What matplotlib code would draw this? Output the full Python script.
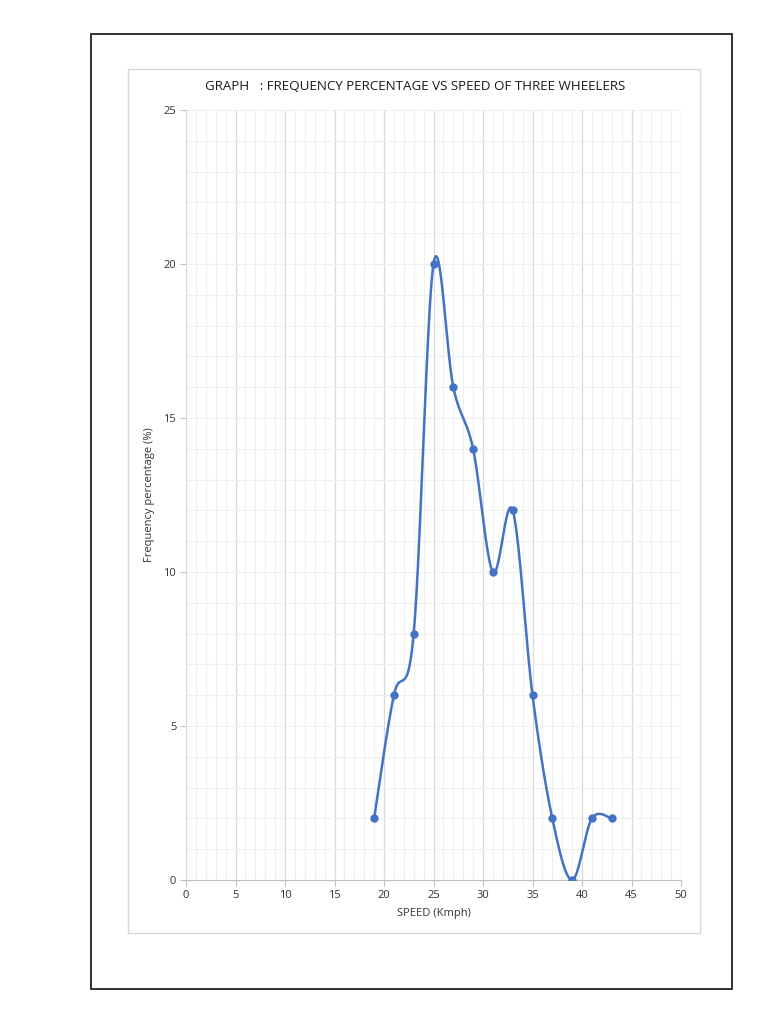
import numpy as np
import matplotlib
matplotlib.use("Agg")
import matplotlib.pyplot as plt
from matplotlib.patches import Rectangle
from matplotlib.ticker import MultipleLocator

plt.rcParams['font.family'] = ['Open Sans', 'DejaVu Sans']

# data
speed = [19, 21, 23, 25, 27, 29, 31, 33, 35, 37, 39, 41, 43]
freq_pct = [2, 6, 8, 20, 16, 14, 10, 12, 6, 2, 0, 2, 2]

title = "GRAPH   : FREQUENCY PERCENTAGE VS SPEED OF THREE WHEELERS"
xlabel = "SPEED (Kmph)"
ylabel = "Frequency percentage (%)"

BLUE = "#4472C4"


def smooth_curve(x, y, n=30):
    """Excel-style smoothed line (Catmull-Rom through the points)."""
    x = np.asarray(x, float)
    y = np.asarray(y, float)
    px = np.concatenate([[x[0]], x, [x[-1]]])
    py = np.concatenate([[y[0]], y, [y[-1]]])
    out_x, out_y = [], []
    t = np.linspace(0, 1, n)
    for i in range(1, len(px) - 2):
        p0 = np.array([px[i], py[i]])
        p3 = np.array([px[i + 1], py[i + 1]])
        c1 = p0 + (np.array([px[i + 1], py[i + 1]]) - np.array([px[i - 1], py[i - 1]])) / 6
        c2 = p3 - (np.array([px[i + 2], py[i + 2]]) - np.array([px[i], py[i]])) / 6
        b = ((1 - t) ** 3)[:, None] * p0 + (3 * (1 - t) ** 2 * t)[:, None] * c1 \
            + (3 * (1 - t) * t ** 2)[:, None] * c2 + (t ** 3)[:, None] * p3
        out_x.extend(b[:, 0])
        out_y.extend(b[:, 1])
    return out_x, out_y


fig = plt.figure(figsize=(7.68, 10.24), dpi=100)
W, H = 768, 1024

# outer black frame and light chart-area border
fig.patches.append(Rectangle((91 / W, 1 - 989 / H), (732 - 91) / W, (989 - 34) / H,
                             transform=fig.transFigure, fill=False, ec="#222222", lw=1.3))
fig.patches.append(Rectangle((128 / W, 1 - 933 / H), (700 - 128) / W, (933 - 69) / H,
                             transform=fig.transFigure, fill=False, ec="#d9d9d9", lw=1.0))

ax = fig.add_axes([186 / W, 1 - 880 / H, (681 - 186) / W, (880 - 110) / H])

sx, sy = smooth_curve(speed, freq_pct)
ax.plot(sx, sy, color=BLUE, lw=1.8, zorder=3)
ax.plot(speed, freq_pct, 'o', color=BLUE, ms=5, zorder=4)

ax.set_xlim(0, 50)
ax.set_ylim(0, 25)
ax.xaxis.set_major_locator(MultipleLocator(5))
ax.xaxis.set_minor_locator(MultipleLocator(1))
ax.yaxis.set_major_locator(MultipleLocator(5))
ax.yaxis.set_minor_locator(MultipleLocator(1))

ax.grid(axis='x', which='major', color='#d9d9d9', lw=0.9)
ax.grid(axis='x', which='minor', color='#efefef', lw=0.8)
ax.grid(axis='y', which='both', color='#efefef', lw=0.8)
ax.set_axisbelow(True)

for s in ['top', 'right']:
    ax.spines[s].set_visible(False)
ax.spines['left'].set_color('#d9d9d9')
ax.spines['bottom'].set_color('#bfbfbf')
ax.tick_params(which='major', length=4, width=0.8, color='#bfbfbf', labelsize=8,
               labelcolor='#333333', pad=3)
ax.tick_params(which='minor', length=0)

ax.set_xlabel(xlabel, fontsize=8, color='#333333', labelpad=5)
ax.set_ylabel(ylabel, fontsize=8, color='#333333', labelpad=6)
fig.text(415 / W, 1 - 87 / H, title, fontsize=9.6, color='#1a1a1a', ha='center', va='center')

fig.savefig("out.png", dpi=100)
